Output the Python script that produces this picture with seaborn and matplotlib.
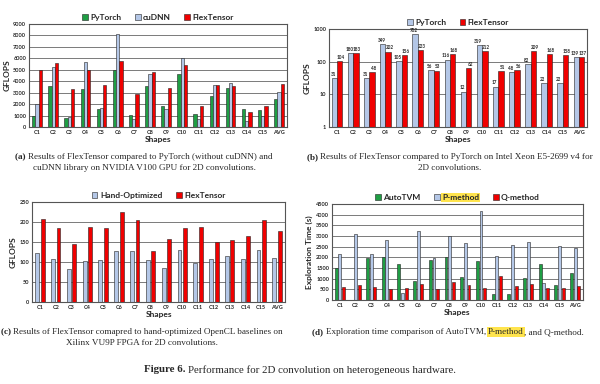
import numpy as np
import pandas as pd
import matplotlib
matplotlib.use("Agg")
import matplotlib.pyplot as plt
import seaborn as sns

shapes = ["C1", "C2", "C3", "C4", "C5", "C6", "C7", "C8", "C9", "C10",
          "C11", "C12", "C13", "C14", "C15", "AVG"]

# (a) NVIDIA V100, GFLOPS
a_pytorch = [1000, 3550, 800, 3300, 1600, 4950, 1050, 3550, 1850, 4650, 1150, 2750, 3450, 1550, 1500, 2450]
a_cudnn = [2000, 5250, 900, 5650, 1650, 8150, 700, 4600, 1600, 6000, 700, 3650, 3850, 500, 1000, 3050]
a_flex = [4950, 5600, 3350, 5000, 3650, 5800, 2900, 4800, 3450, 5450, 1800, 3700, 3550, 1350, 1850, 3800]

# (b) Intel Xeon, GFLOPS (log)
b_pytorch = [31, 180, 31, 349, 105, 702, 56, 116, 12, 319, 17, 48, 82, 22, 22, 139]
b_flex = [104, 183, 48, 202, 156, 223, 53, 168, 62, 212, 51, 56, 209, 168, 158, 137]

# (c) Xilinx VU9P FPGA, GFLOPS
c_hand = [123, 108, 82, 103, 104, 127, 128, 105, 85, 131, 98, 107, 116, 107, 131, 110]
c_flex = [207, 184, 144, 188, 186, 224, 206, 127, 157, 186, 188, 150, 156, 166, 205, 178]

# (d) Exploration time (s)
d_autotvm = [1500, 20, 1970, 2030, 1700, 900, 1880, 2000, 1100, 1830, 280, 280, 1050, 1700, 680, 1270]
d_pmethod = [2170, 3100, 2150, 2800, 350, 3250, 1980, 3000, 2680, 4150, 2050, 2580, 2740, 800, 2520, 2420]
d_qmethod = [600, 680, 600, 520, 580, 750, 500, 830, 700, 560, 1120, 650, 760, 550, 560, 660]

GREEN = "#1f9e44"
BLUE = "#b4c7e7"
RED = "#f00000"

SANS = ["Lato", "DejaVu Sans"]
SERIF = ["Liberation Serif", "DejaVu Serif"]

sns.set_theme(style="white")
plt.rcParams["font.family"] = SANS

W, H = 600, 384
fig = plt.figure(figsize=(W / 100, H / 100), dpi=100)


def rect(l, t, r, b):
    return [l / W, 1 - b / H, (r - l) / W, (b - t) / H]


def panel(rc, series, names, colors, ylim, yticks, ylabel, log=False,
          width=0.62, gap=0.0, barlabels=False):
    ax = fig.add_axes(rc)
    df = pd.DataFrame({
        "Shape": np.tile(shapes, len(names)),
        "Series": np.repeat(names, len(shapes)),
        "Value": np.concatenate([np.asarray(s, float) for s in series]),
    })
    sns.barplot(data=df, x="Shape", y="Value", hue="Series", order=shapes,
                hue_order=names, palette=colors, ax=ax, width=width, gap=gap,
                edgecolor="#222222", linewidth=0.4, saturation=1, errorbar=None)
    if log:
        ax.set_yscale("log")
    ax.set_ylim(*ylim)
    ax.set_yticks(yticks)
    if log:
        ax.set_yticklabels([str(t) for t in yticks])
    ax.minorticks_off()
    ax.yaxis.grid(True, color="#7a7a7a", lw=0.7)
    ax.set_axisbelow(True)
    for s in ax.spines.values():
        s.set_color("#555555")
        s.set_linewidth(0.8)
    ax.tick_params(axis="both", length=0, labelsize=4, pad=2)
    for lab in ax.get_xticklabels() + ax.get_yticklabels():
        lab.set_fontweight("bold")
    ax.set_xlabel("Shapes", fontsize=6, fontweight="bold", labelpad=1)
    ax.set_ylabel(ylabel, fontsize=6, fontweight="bold", labelpad=2)
    ax.set_xlim(-0.5, len(shapes) - 0.5)
    leg = ax.legend(loc="lower center", bbox_to_anchor=(0.5, 0.99), ncol=len(names),
                    frameon=False, prop={"weight": "bold", "size": 6, "family": SANS},
                    handlelength=0.7, handleheight=0.7, handletextpad=0.3,
                    columnspacing=1.6, borderaxespad=0.1)
    if barlabels:
        for i, cont in enumerate(ax.containers):
            anns = ax.bar_label(cont, fmt="%d", fontsize=3.3, fontweight="bold", padding=1)
            dx = -0.9 if i == 0 else 0.9
            for a in anns:
                a.xyann = (dx, 1)
    return ax, leg


panel(rect(29, 24, 287, 127), [a_pytorch, a_cudnn, a_flex],
      ["PyTorch", "cuDNN", "FlexTensor"], [GREEN, BLUE, RED],
      (0, 9000), list(range(0, 9001, 1000)), "GFLOPS", width=0.6)

panel(rect(329, 29, 587, 127), [b_pytorch, b_flex],
      ["PyTorch", "FlexTensor"], [BLUE, RED],
      (1, 1000), [1, 10, 100, 1000], "GFLOPS", log=True, width=0.66, barlabels=True)

panel(rect(32, 202, 285, 302), [c_hand, c_flex],
      ["Hand-Optimized", "FlexTensor"], [BLUE, RED],
      (0, 250), list(range(0, 251, 50)), "GFLOPS", width=0.7, gap=0.3)

_, legd = panel(rect(332, 204, 583, 300), [d_autotvm, d_pmethod, d_qmethod],
                ["AutoTVM", "P-method", "Q-method"], [GREEN, BLUE, RED],
                (0, 4500), list(range(0, 4501, 500)), "Exploration Time (s)", width=0.7, gap=0.2)
legd.get_texts()[1].set_bbox(dict(facecolor="#ffe44d", edgecolor="none", pad=0.6))

renderer = fig.canvas.get_renderer()


def rich_line(runs, xc, y, size=6.6):
    texts = []
    for s, kw in runs:
        t = fig.text(0, 1 - y / H, s, fontsize=size, family=SERIF, va="center", **kw)
        texts.append(t)
    widths = [t.get_window_extent(renderer).width for t in texts]
    x = xc - sum(widths) / 2
    for t, w in zip(texts, widths):
        t.set_x(x / W)
        x += w
    return texts


BOLD = {"fontweight": "bold"}
NORM = {}
rich_line([("(a) ", BOLD), ("Results of FlexTensor compared to PyTorch (without cuDNN) and", NORM)], 144, 157)
rich_line([("cuDNN library on NVIDIA V100 GPU for 2D convolutions.", NORM)], 144, 168)
rich_line([("(b) ", BOLD), ("Results of FlexTensor compared to PyTorch on Intel Xeon E5-2699 v4 for", NORM)], 450, 157)
rich_line([("2D convolutions.", NORM)], 450, 168)
rich_line([("(c) ", BOLD), ("Results of FlexTensor comapred to hand-optimized OpenCL baselines on", NORM)], 142, 332)
rich_line([("Xilinx VU9P FPGA for 2D convolutions.", NORM)], 142, 343)
rich_line([("(d) ", BOLD), ("Exploration time comparison of AutoTVM, ", NORM),
           ("P-method", {"bbox": dict(facecolor="#ffe44d", edgecolor="none", pad=0.5)}),
           (", and Q-method.", NORM)], 448, 332)
rich_line([("Figure 6. ", BOLD), ("Performance for 2D convolution on heterogeneous hardware.", NORM)],
          300, 370, size=7.8)

fig.savefig("out.png", dpi=100)
